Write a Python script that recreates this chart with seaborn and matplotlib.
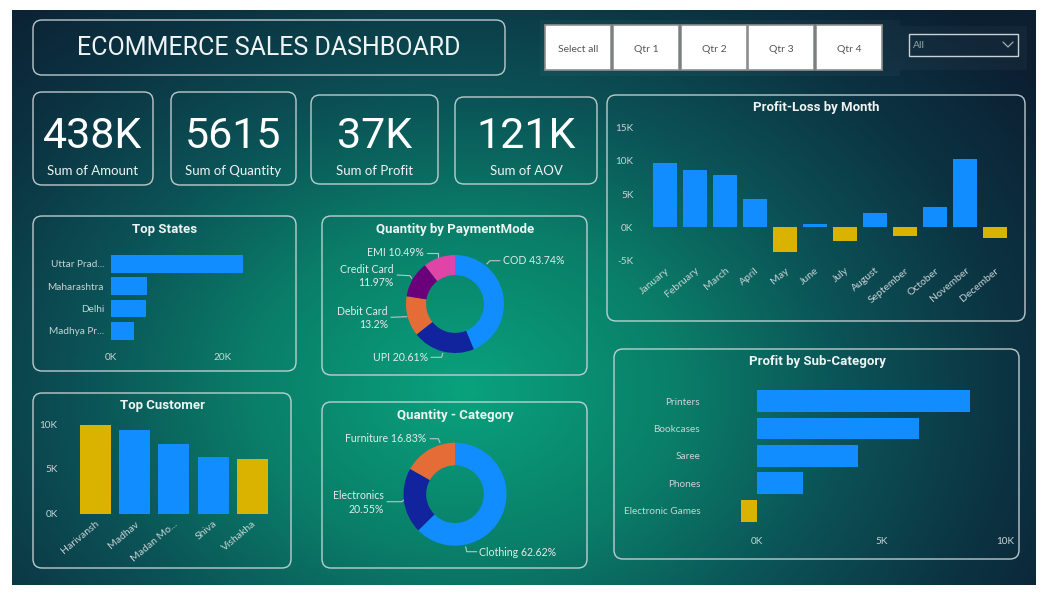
import numpy as np
import matplotlib
matplotlib.use('Agg')
import matplotlib.pyplot as plt
import seaborn as sns
from matplotlib.patches import FancyBboxPatch, Rectangle
from matplotlib.colors import LinearSegmentedColormap
from matplotlib.ticker import FuncFormatter

# ---- data ----
kpi_values = ['438K', '5615', '37K', '121K']
kpi_labels = ['Sum of Amount', 'Sum of Quantity', 'Sum of Profit', 'Sum of AOV']

months = ['January', 'February', 'March', 'April', 'May', 'June', 'July',
          'August', 'September', 'October', 'November', 'December']
month_profit = [9750, 8550, 7800, 4200, -3750, 450, -2100, 2100, -1350, 3000, 10350, -1650]

states = ['Uttar Prad...', 'Maharashtra', 'Delhi', 'Madhya Pr...']
state_amount = [23500, 6400, 6200, 4100]

customers = ['Harivansh', 'Madhav', 'Madan Mo...', 'Shiva', 'Vishakha']
customer_amount = [9930, 9370, 7800, 6340, 6120]
customer_flag = ['high', 'base', 'base', 'base', 'high']

pay_modes = ['COD', 'UPI', 'Debit Card', 'Credit Card', 'EMI']
pay_share = [43.74, 20.61, 13.2, 11.97, 10.49]

categories = ['Clothing', 'Electronics', 'Furniture']
cat_share = [62.62, 20.55, 16.83]

sub_cats = ['Printers', 'Bookcases', 'Saree', 'Phones', 'Electronic Games']
sub_profit = [8570, 6510, 4060, 1850, -640]

quarters = ['Select all', 'Qtr 1', 'Qtr 2', 'Qtr 3', 'Qtr 4']

# ---- style ----
BLUE = '#118DFF'
GOLD = '#D9B300'
TICK = '#c9d3d6'
TITLE = '#eef3f4'
BORDER = '#cfd8dc'
TITLE_FONT = ['Roboto', 'DejaVu Sans']

sns.set_style('white')
plt.rcParams['font.family'] = ['Lato', 'DejaVu Sans']

W, H = 1045, 595
fig = plt.figure(figsize=(W / 100, H / 100), dpi=100, facecolor='white')


def ax_px(x0, y0, x1, y1):
    return fig.add_axes([x0 / W, 1 - y1 / H, (x1 - x0) / W, (y1 - y0) / H])


kfmt = FuncFormatter(lambda v, p: f'{int(round(v / 1000))}K')

# background canvas in pixel coordinates
bg = fig.add_axes([0, 0, 1, 1])
bg.set_xlim(0, W)
bg.set_ylim(H, 0)
bg.axis('off')

gx, gy = np.meshgrid(np.linspace(12, 1036, 400), np.linspace(10, 585, 240))
d = np.sqrt(((gx - 465) / 560) ** 2 + ((gy - 390) / 430) ** 2)
cmap = LinearSegmentedColormap.from_list(
    'bg', [(0, '#09a27d'), (0.3, '#0a7f69'), (0.55, '#0b5256'), (0.78, '#0b3342'), (1, '#0b1f31')])
bg.imshow(np.clip(d / 1.25, 0, 1), extent=(12, 1036, 585, 10), cmap=cmap, vmin=0, vmax=1,
          aspect='auto', interpolation='bilinear', zorder=0)


def panel(x0, y0, x1, y1, r=9, lw=1.0, fc='none', ec=BORDER, alpha_e=0.9):
    bg.add_patch(FancyBboxPatch((x0 + r, y0 + r), x1 - x0 - 2 * r, y1 - y0 - 2 * r,
                                boxstyle=f'round,pad={r}', fc=fc, ec=ec, lw=lw,
                                alpha=alpha_e, zorder=2))


# title box
panel(33, 20, 505, 75)
bg.text(269, 48, 'ECOMMERCE SALES DASHBOARD', ha='center', va='center', color=TITLE,
        fontsize=18, family=TITLE_FONT, zorder=3)

# slicer
bg.add_patch(Rectangle((540, 20), 360, 56, fc='white', alpha=0.03, ec='none', zorder=1))
bg.add_patch(Rectangle((900, 26), 127, 44, fc='white', alpha=0.03, ec='none', zorder=1))
btn_x = [545, 613, 681, 748, 816]
for bx, q in zip(btn_x, quarters):
    bg.add_patch(Rectangle((bx, 25), 66, 45, fc='white', ec='#8f8f8f', lw=1.2, zorder=3))
    bg.text(bx + 33, 49, q, ha='center', va='center', fontsize=7.5, color='#555555', zorder=4)
bg.add_patch(Rectangle((909, 34), 109, 22, fc='none', ec='#c9d3d6', lw=1, zorder=3))
bg.text(913, 46, 'All', ha='left', va='center', fontsize=7.5, color='#8fa3a8', zorder=4)
bg.plot([1003, 1008, 1013], [42, 47, 42], color='#9fb0b4', lw=0.9, zorder=4)

# KPI cards
cards = [(33, 92, 153, 185), (171, 92, 296, 185), (311, 95, 438, 184), (455, 97, 597, 184)]
for (x0, y0, x1, y1), val, lab in zip(cards, kpi_values, kpi_labels):
    panel(x0, y0, x1, y1)
    cx = (x0 + x1) / 2
    bg.text(cx, 137, val, ha='center', va='center', fontsize=31, color='white',
            family=TITLE_FONT, zorder=3)
    bg.text(cx, 171, lab, ha='center', va='center', fontsize=9.5, color=TITLE, zorder=3)

# chart panels and titles
panels = [(33, 216, 296, 371), (322, 216, 587, 375), (33, 393, 291, 568),
          (322, 402, 587, 568), (607, 95, 1025, 321), (614, 349, 1019, 559)]
for p in panels:
    panel(*p)
titles = [('Top States', 165, 230), ('Quantity by PaymentMode', 455, 230),
          ('Top Customer', 162, 406), ('Quantity - Category', 455, 416),
          ('Profit-Loss by Month', 816, 108), ('Profit by Sub-Category', 817, 362)]
for t, x, y in titles:
    bg.text(x, y, t, ha='center', va='center', fontsize=9.5, fontweight='bold',
            color=TITLE, family=TITLE_FONT, zorder=3)


def style_ax(ax):
    ax.set_facecolor('none')
    for s in ax.spines.values():
        s.set_visible(False)
    ax.tick_params(length=0, colors=TICK, labelsize=7.2)
    ax.set_xlabel('')
    ax.set_ylabel('')
    ax.grid(False)


bar_kw = dict(saturation=1, width=0.79, linewidth=0, edgecolor='none')

# Profit-Loss by Month
ax = ax_px(650, 127.7, 1010, 260.3)
sign = ['pos' if v >= 0 else 'neg' for v in month_profit]
sns.barplot(x=months, y=month_profit, hue=sign, palette={'pos': BLUE, 'neg': GOLD},
            dodge=False, legend=False, ax=ax, **bar_kw)
style_ax(ax)
ax.set_xlim(-0.5, 11.5)
ax.set_ylim(-5000, 15000)
ax.set_yticks([-5000, 0, 5000, 10000, 15000])
ax.yaxis.set_major_formatter(kfmt)
ax.tick_params(axis='y', pad=12)
ax.tick_params(axis='x', pad=4, labelsize=7.5)
plt.setp(ax.get_xticklabels(), rotation=40, ha='right', rotation_mode='anchor')

# Top States
ax = ax_px(111, 252.5, 251, 341.9)
sns.barplot(x=state_amount, y=states, orient='h', color=BLUE, ax=ax, **bar_kw)
style_ax(ax)
ax.set_xlim(0, 25000)
ax.set_ylim(3.5, -0.5)
ax.set_xticks([0, 20000])
ax.xaxis.set_major_formatter(kfmt)
ax.tick_params(axis='y', pad=5)
ax.tick_params(axis='x', pad=8)

# Top Customer
ax = ax_px(75.7, 424.3, 271.9, 513.7)
sns.barplot(x=customers, y=customer_amount, hue=customer_flag,
            palette={'high': GOLD, 'base': BLUE}, dodge=False, legend=False, ax=ax, **bar_kw)
style_ax(ax)
ax.set_xlim(-0.5, 4.5)
ax.set_ylim(0, 10000)
ax.set_yticks([0, 5000, 10000])
ax.yaxis.set_major_formatter(kfmt)
ax.tick_params(axis='y', pad=13)
ax.tick_params(axis='x', pad=4, labelsize=7.5)
plt.setp(ax.get_xticklabels(), rotation=40, ha='right', rotation_mode='anchor')

# Profit by Sub-Category
ax = ax_px(732.1, 387.3, 1005.7, 524.4)
sub_sign = ['pos' if v >= 0 else 'neg' for v in sub_profit]
sns.barplot(x=sub_profit, y=sub_cats, hue=sub_sign, orient='h',
            palette={'pos': BLUE, 'neg': GOLD}, dodge=False, legend=False, ax=ax, **bar_kw)
style_ax(ax)
ax.set_xlim(-1000, 10000)
ax.set_ylim(4.5, -0.5)
ax.set_xticks([0, 5000, 10000])
ax.xaxis.set_major_formatter(kfmt)
ax.tick_params(axis='y', pad=23)
ax.tick_params(axis='x', pad=9)


# donuts
def donut(box, values, colors, width):
    a = ax_px(*box)
    a.pie(values, colors=colors, startangle=90, counterclock=False, radius=1,
          wedgeprops=dict(width=width, edgecolor='none'))
    a.set_xlim(-1, 1)
    a.set_ylim(-1, 1)
    a.set_facecolor('none')
    a.axis('off')
    return a


donut((406, 255, 504, 353), pay_share, [BLUE, '#12239E', '#E66C37', '#6B007B', '#E044A7'], 0.41)
donut((403.5, 442.7, 506.5, 545.7), cat_share, [BLUE, '#12239E', '#E66C37'], 0.44)

# label layout: (text x, text y, ha, wrap, leader points)
pay_layout = [
    (503, 261, 'left', False, [(486.7, 264), (490, 260.7), (500, 260.7)]),
    (428, 357.3, 'right', False, [(442.7, 353.3), (441.7, 357.3), (431, 357.3)]),
    (388, 318, 'right', True, [(407, 316.7), (391, 317.3)]),
    (394, 276, 'right', True, [(411.7, 278.3), (410, 275.7), (397, 275)]),
    (424, 252.7, 'right', False, [(438.3, 256.7), (438.3, 252.7), (427, 252.7)]),
]
cat_layout = [
    (479, 552.7, 'left', False, [(465.7, 546.7), (466.7, 551.7), (476.7, 551.7)]),
    (384, 502.5, 'right', True, [(404, 500), (401.7, 501.7), (387, 501.7)]),
    (426.7, 438.7, 'right', False, [(440, 442.7), (438.3, 438.7), (430, 438.7)]),
]
for names, vals, layout in [(pay_modes, pay_share, pay_layout), (categories, cat_share, cat_layout)]:
    for n, v, (tx, ty, ha, wrap, pts) in zip(names, vals, layout):
        lab = f'{n}\n{v:g}%' if wrap else f'{n} {v:g}%'
        bg.text(tx, ty, lab, ha=ha, va='center', fontsize=7.6, color='#e3eaec',
                linespacing=1.3, multialignment='right' if wrap else ha, zorder=5)
        xs, ys = zip(*pts)
        bg.plot(xs, ys, color='#b9c6c9', lw=0.8, zorder=5)

fig.savefig('out.png', dpi=100, facecolor='white')
